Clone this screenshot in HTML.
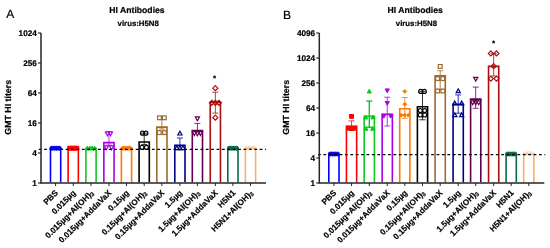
<!DOCTYPE html>
<html><head><meta charset="utf-8"><style>
html,body{margin:0;padding:0;background:#fff;}
svg{display:block;}
text{font-family:"Liberation Sans", Arial, Helvetica, sans-serif;fill:#000;stroke:#000;stroke-width:0.2px;text-rendering:geometricPrecision;}
</style></head><body>
<svg width="550" height="248" viewBox="0 0 550 248">
<path d="M50.50 182.20 V148.20 H60.70 V182.20" fill="none" stroke="#0000ff" stroke-width="1.6" stroke-linejoin="miter"/>
<circle cx="52.00" cy="148.20" r="1.99" fill="#0000ff" stroke="#0000ff" stroke-width="1.0"/>
<circle cx="54.40" cy="148.20" r="1.99" fill="#0000ff" stroke="#0000ff" stroke-width="1.0"/>
<circle cx="56.80" cy="148.20" r="1.99" fill="#0000ff" stroke="#0000ff" stroke-width="1.0"/>
<circle cx="59.20" cy="148.20" r="1.99" fill="#0000ff" stroke="#0000ff" stroke-width="1.0"/>
<path d="M68.15 182.20 V148.20 H78.35 V182.20" fill="none" stroke="#ff0000" stroke-width="1.6" stroke-linejoin="miter"/>
<rect x="67.76" y="146.31" width="3.78" height="3.78" fill="#ff0000" stroke="#ff0000" stroke-width="1.0"/>
<rect x="70.16" y="146.31" width="3.78" height="3.78" fill="#ff0000" stroke="#ff0000" stroke-width="1.0"/>
<rect x="72.56" y="146.31" width="3.78" height="3.78" fill="#ff0000" stroke="#ff0000" stroke-width="1.0"/>
<rect x="74.96" y="146.31" width="3.78" height="3.78" fill="#ff0000" stroke="#ff0000" stroke-width="1.0"/>
<path d="M85.90 182.20 V148.20 H96.10 V182.20" fill="none" stroke="#10c820" stroke-width="1.6" stroke-linejoin="miter"/>
<polygon points="87.40,146.10 89.50,149.88 85.30,149.88" fill="#10c820" stroke="#10c820" stroke-width="1.0" stroke-linejoin="miter"/>
<polygon points="89.80,146.10 91.90,149.88 87.70,149.88" fill="#10c820" stroke="#10c820" stroke-width="1.0" stroke-linejoin="miter"/>
<polygon points="92.20,146.10 94.30,149.88 90.10,149.88" fill="#10c820" stroke="#10c820" stroke-width="1.0" stroke-linejoin="miter"/>
<polygon points="94.60,146.10 96.70,149.88 92.50,149.88" fill="#10c820" stroke="#10c820" stroke-width="1.0" stroke-linejoin="miter"/>
<path d="M103.85 182.20 V142.60 H114.05 V182.20" fill="none" stroke="#a800e6" stroke-width="1.6" stroke-linejoin="miter"/>
<line x1="108.95" y1="131.50" x2="108.95" y2="142.60" stroke="#a800e6" stroke-width="0.8"/>
<line x1="105.95" y1="131.50" x2="111.95" y2="131.50" stroke="#a800e6" stroke-width="0.8"/>
<line x1="108.95" y1="142.60" x2="108.95" y2="145.20" stroke="#a800e6" stroke-width="0.8"/>
<line x1="105.95" y1="145.20" x2="111.95" y2="145.20" stroke="#a800e6" stroke-width="0.8"/>
<polygon points="107.45,135.80 109.55,132.02 105.35,132.02" fill="none" stroke="#a800e6" stroke-width="1.2"/>
<polygon points="110.45,135.80 112.55,132.02 108.35,132.02" fill="none" stroke="#a800e6" stroke-width="1.2"/>
<polygon points="106.35,149.70 108.45,145.92 104.25,145.92" fill="none" stroke="#a800e6" stroke-width="1.2"/>
<polygon points="111.55,149.70 113.65,145.92 109.45,145.92" fill="none" stroke="#a800e6" stroke-width="1.2"/>
<path d="M121.40 182.20 V148.20 H131.60 V182.20" fill="none" stroke="#ff7800" stroke-width="1.6" stroke-linejoin="miter"/>
<polygon points="122.90,145.89 125.21,148.20 122.90,150.51 120.59,148.20" fill="#ff7800" stroke="#ff7800" stroke-width="1.0"/>
<polygon points="125.30,145.89 127.61,148.20 125.30,150.51 122.99,148.20" fill="#ff7800" stroke="#ff7800" stroke-width="1.0"/>
<polygon points="127.70,145.89 130.01,148.20 127.70,150.51 125.39,148.20" fill="#ff7800" stroke="#ff7800" stroke-width="1.0"/>
<polygon points="130.10,145.89 132.41,148.20 130.10,150.51 127.79,148.20" fill="#ff7800" stroke="#ff7800" stroke-width="1.0"/>
<path d="M139.10 182.20 V142.00 H149.30 V182.20" fill="none" stroke="#000000" stroke-width="1.6" stroke-linejoin="miter"/>
<line x1="144.20" y1="133.20" x2="144.20" y2="142.00" stroke="#000000" stroke-width="0.8"/>
<line x1="141.20" y1="133.20" x2="147.20" y2="133.20" stroke="#000000" stroke-width="0.8"/>
<line x1="144.20" y1="142.00" x2="144.20" y2="144.60" stroke="#000000" stroke-width="0.8"/>
<line x1="141.20" y1="144.60" x2="147.20" y2="144.60" stroke="#000000" stroke-width="0.8"/>
<circle cx="142.50" cy="133.20" r="1.99" fill="none" stroke="#000000" stroke-width="1.2"/>
<circle cx="145.90" cy="133.20" r="1.99" fill="none" stroke="#000000" stroke-width="1.2"/>
<circle cx="142.00" cy="147.40" r="1.99" fill="none" stroke="#000000" stroke-width="1.2"/>
<circle cx="146.40" cy="147.40" r="1.99" fill="none" stroke="#000000" stroke-width="1.2"/>
<path d="M156.80 182.20 V127.10 H167.00 V182.20" fill="none" stroke="#9c6a2e" stroke-width="1.6" stroke-linejoin="miter"/>
<line x1="161.90" y1="119.50" x2="161.90" y2="127.10" stroke="#9c6a2e" stroke-width="0.8"/>
<line x1="158.90" y1="119.50" x2="164.90" y2="119.50" stroke="#9c6a2e" stroke-width="0.8"/>
<line x1="161.90" y1="127.10" x2="161.90" y2="129.00" stroke="#9c6a2e" stroke-width="0.8"/>
<line x1="158.90" y1="129.00" x2="164.90" y2="129.00" stroke="#9c6a2e" stroke-width="0.8"/>
<rect x="157.61" y="115.91" width="3.78" height="3.78" fill="none" stroke="#9c6a2e" stroke-width="1.2"/>
<rect x="162.41" y="115.91" width="3.78" height="3.78" fill="none" stroke="#9c6a2e" stroke-width="1.2"/>
<rect x="157.41" y="130.71" width="3.78" height="3.78" fill="none" stroke="#9c6a2e" stroke-width="1.2"/>
<rect x="162.61" y="130.71" width="3.78" height="3.78" fill="none" stroke="#9c6a2e" stroke-width="1.2"/>
<path d="M174.80 182.20 V145.40 H185.00 V182.20" fill="none" stroke="#000088" stroke-width="1.6" stroke-linejoin="miter"/>
<line x1="179.90" y1="138.00" x2="179.90" y2="145.40" stroke="#000088" stroke-width="0.8"/>
<line x1="176.90" y1="138.00" x2="182.90" y2="138.00" stroke="#000088" stroke-width="0.8"/>
<polygon points="179.90,131.20 182.00,134.98 177.80,134.98" fill="none" stroke="#000088" stroke-width="1.2" stroke-linejoin="miter"/>
<polygon points="176.90,145.80 179.00,149.58 174.80,149.58" fill="none" stroke="#000088" stroke-width="1.2" stroke-linejoin="miter"/>
<polygon points="179.90,145.80 182.00,149.58 177.80,149.58" fill="none" stroke="#000088" stroke-width="1.2" stroke-linejoin="miter"/>
<polygon points="182.90,145.80 185.00,149.58 180.80,149.58" fill="none" stroke="#000088" stroke-width="1.2" stroke-linejoin="miter"/>
<path d="M192.30 182.20 V130.60 H202.50 V182.20" fill="none" stroke="#600050" stroke-width="1.6" stroke-linejoin="miter"/>
<line x1="197.40" y1="123.40" x2="197.40" y2="130.60" stroke="#600050" stroke-width="0.8"/>
<line x1="194.40" y1="123.40" x2="200.40" y2="123.40" stroke="#600050" stroke-width="0.8"/>
<polygon points="197.40,120.70 199.50,116.92 195.30,116.92" fill="none" stroke="#600050" stroke-width="1.2"/>
<polygon points="194.40,135.50 196.50,131.72 192.30,131.72" fill="none" stroke="#600050" stroke-width="1.2"/>
<polygon points="197.40,135.70 199.50,131.92 195.30,131.92" fill="none" stroke="#600050" stroke-width="1.2"/>
<polygon points="200.40,135.50 202.50,131.72 198.30,131.72" fill="none" stroke="#600050" stroke-width="1.2"/>
<path d="M210.25 182.20 V102.40 H220.45 V182.20" fill="none" stroke="#a81010" stroke-width="1.6" stroke-linejoin="miter"/>
<line x1="215.35" y1="92.20" x2="215.35" y2="102.40" stroke="#a81010" stroke-width="0.8"/>
<line x1="212.35" y1="92.20" x2="218.35" y2="92.20" stroke="#a81010" stroke-width="0.8"/>
<line x1="215.35" y1="102.40" x2="215.35" y2="113.10" stroke="#a81010" stroke-width="0.8"/>
<line x1="212.35" y1="113.10" x2="218.35" y2="113.10" stroke="#a81010" stroke-width="0.8"/>
<polygon points="215.35,85.68 217.87,88.20 215.35,90.72 212.83,88.20" fill="none" stroke="#a81010" stroke-width="1.2"/>
<polygon points="211.85,100.28 214.37,102.80 211.85,105.32 209.33,102.80" fill="none" stroke="#a81010" stroke-width="1.2"/>
<polygon points="215.35,100.28 217.87,102.80 215.35,105.32 212.83,102.80" fill="none" stroke="#a81010" stroke-width="1.2"/>
<polygon points="218.85,100.28 221.37,102.80 218.85,105.32 216.33,102.80" fill="none" stroke="#a81010" stroke-width="1.2"/>
<polygon points="215.35,115.18 217.87,117.70 215.35,120.22 212.83,117.70" fill="none" stroke="#a81010" stroke-width="1.2"/>
<path d="M227.80 182.20 V148.20 H238.00 V182.20" fill="none" stroke="#0a6a48" stroke-width="1.6" stroke-linejoin="miter"/>
<circle cx="229.30" cy="148.20" r="1.99" fill="#0a6a48" stroke="#0a6a48" stroke-width="1.0"/>
<circle cx="231.70" cy="148.20" r="1.99" fill="#0a6a48" stroke="#0a6a48" stroke-width="1.0"/>
<circle cx="234.10" cy="148.20" r="1.99" fill="#0a6a48" stroke="#0a6a48" stroke-width="1.0"/>
<circle cx="236.50" cy="148.20" r="1.99" fill="#0a6a48" stroke="#0a6a48" stroke-width="1.0"/>
<path d="M245.40 182.20 V148.20 H255.60 V182.20" fill="none" stroke="#f5b070" stroke-width="1.6" stroke-linejoin="miter"/>
<circle cx="247.10" cy="147.60" r="1.71" fill="none" stroke="#f8cc9c" stroke-width="0.8"/>
<circle cx="250.50" cy="147.60" r="1.71" fill="none" stroke="#f8cc9c" stroke-width="0.8"/>
<circle cx="253.90" cy="147.60" r="1.71" fill="none" stroke="#f8cc9c" stroke-width="0.8"/>
<line x1="38.70" y1="149.3" x2="266.10" y2="149.3" stroke="#000" stroke-width="1.35" stroke-dasharray="2.8,2.59"/>
<path d="M41 33 V183 H266" fill="none" stroke="#262626" stroke-width="1.5"/>
<line x1="38" y1="33" x2="41" y2="33" stroke="#262626" stroke-width="1.2"/>
<text x="36.8" y="35.7" text-anchor="end" font-size="8.2" font-weight="bold">1024</text>
<line x1="38" y1="63" x2="41" y2="63" stroke="#262626" stroke-width="1.2"/>
<text x="36.8" y="65.7" text-anchor="end" font-size="8.2" font-weight="bold">256</text>
<line x1="38" y1="93" x2="41" y2="93" stroke="#262626" stroke-width="1.2"/>
<text x="36.8" y="95.7" text-anchor="end" font-size="8.2" font-weight="bold">64</text>
<line x1="38" y1="123" x2="41" y2="123" stroke="#262626" stroke-width="1.2"/>
<text x="36.8" y="125.7" text-anchor="end" font-size="8.2" font-weight="bold">16</text>
<line x1="38" y1="153" x2="41" y2="153" stroke="#262626" stroke-width="1.2"/>
<text x="36.8" y="155.7" text-anchor="end" font-size="8.2" font-weight="bold">4</text>
<line x1="38" y1="183" x2="41" y2="183" stroke="#262626" stroke-width="1.2"/>
<text x="36.8" y="185.7" text-anchor="end" font-size="8.2" font-weight="bold">1</text>
<line x1="55.60" y1="183" x2="55.60" y2="186" stroke="#262626" stroke-width="1"/>
<text transform="translate(58.60,193.4) rotate(-45)" text-anchor="end" font-size="8.2" font-weight="bold">PBS</text>
<line x1="73.25" y1="183" x2="73.25" y2="186" stroke="#262626" stroke-width="1"/>
<text transform="translate(76.25,193.4) rotate(-45)" text-anchor="end" font-size="8.2" font-weight="bold">0.015µg</text>
<line x1="91.00" y1="183" x2="91.00" y2="186" stroke="#262626" stroke-width="1"/>
<text transform="translate(94.00,193.4) rotate(-45)" text-anchor="end" font-size="8.2" font-weight="bold">0.015µg+Al(OH)<tspan font-size="6" dy="1.3">3</tspan></text>
<line x1="108.95" y1="183" x2="108.95" y2="186" stroke="#262626" stroke-width="1"/>
<text transform="translate(111.95,193.4) rotate(-45)" text-anchor="end" font-size="8.2" font-weight="bold">0.015µg+AddaVaX</text>
<line x1="126.50" y1="183" x2="126.50" y2="186" stroke="#262626" stroke-width="1"/>
<text transform="translate(129.50,193.4) rotate(-45)" text-anchor="end" font-size="8.2" font-weight="bold">0.15µg</text>
<line x1="144.20" y1="183" x2="144.20" y2="186" stroke="#262626" stroke-width="1"/>
<text transform="translate(147.20,193.4) rotate(-45)" text-anchor="end" font-size="8.2" font-weight="bold">0.15µg+Al(OH)<tspan font-size="6" dy="1.3">3</tspan></text>
<line x1="161.90" y1="183" x2="161.90" y2="186" stroke="#262626" stroke-width="1"/>
<text transform="translate(164.90,193.4) rotate(-45)" text-anchor="end" font-size="8.2" font-weight="bold">0.15µg+AddaVaX</text>
<line x1="179.90" y1="183" x2="179.90" y2="186" stroke="#262626" stroke-width="1"/>
<text transform="translate(182.90,193.4) rotate(-45)" text-anchor="end" font-size="8.2" font-weight="bold">1.5µg</text>
<line x1="197.40" y1="183" x2="197.40" y2="186" stroke="#262626" stroke-width="1"/>
<text transform="translate(200.40,193.4) rotate(-45)" text-anchor="end" font-size="8.2" font-weight="bold">1.5µg+Al(OH)<tspan font-size="6" dy="1.3">3</tspan></text>
<line x1="215.35" y1="183" x2="215.35" y2="186" stroke="#262626" stroke-width="1"/>
<text transform="translate(218.35,193.4) rotate(-45)" text-anchor="end" font-size="8.2" font-weight="bold">1.5µg+AddaVaX</text>
<line x1="232.90" y1="183" x2="232.90" y2="186" stroke="#262626" stroke-width="1"/>
<text transform="translate(235.90,193.4) rotate(-45)" text-anchor="end" font-size="8.2" font-weight="bold">H5N1</text>
<line x1="250.50" y1="183" x2="250.50" y2="186" stroke="#262626" stroke-width="1"/>
<text transform="translate(253.50,193.4) rotate(-45)" text-anchor="end" font-size="8.2" font-weight="bold">H5N1+Al(OH)<tspan font-size="6" dy="1.3">3</tspan></text>
<text x="214.5" y="80.8" text-anchor="middle" font-size="8" font-weight="bold">*</text>
<text transform="translate(10.9,107.3) rotate(-90)" text-anchor="middle" font-size="8.8" font-weight="bold">GMT HI titers</text>
<text x="137.0" y="12.7" text-anchor="middle" font-size="8.65" font-weight="bold">HI Antibodies</text>
<text x="138.2" y="26.1" text-anchor="middle" font-size="7.8" font-weight="bold">virus:H5N8</text>
<text x="6.2" y="18.4" font-size="12">A</text>
<path d="M328.80 182.20 V154.00 H339.00 V182.20" fill="none" stroke="#0000ff" stroke-width="1.6" stroke-linejoin="miter"/>
<circle cx="330.30" cy="154.00" r="1.99" fill="#0000ff" stroke="#0000ff" stroke-width="1.0"/>
<circle cx="332.70" cy="154.00" r="1.99" fill="#0000ff" stroke="#0000ff" stroke-width="1.0"/>
<circle cx="335.10" cy="154.00" r="1.99" fill="#0000ff" stroke="#0000ff" stroke-width="1.0"/>
<circle cx="337.50" cy="154.00" r="1.99" fill="#0000ff" stroke="#0000ff" stroke-width="1.0"/>
<path d="M346.45 182.20 V126.20 H356.65 V182.20" fill="none" stroke="#ff0000" stroke-width="1.6" stroke-linejoin="miter"/>
<line x1="351.55" y1="120.90" x2="351.55" y2="126.20" stroke="#ff0000" stroke-width="0.8"/>
<line x1="348.55" y1="120.90" x2="354.55" y2="120.90" stroke="#ff0000" stroke-width="0.8"/>
<line x1="351.55" y1="126.20" x2="351.55" y2="130.60" stroke="#ff0000" stroke-width="0.8"/>
<line x1="348.55" y1="130.60" x2="354.55" y2="130.60" stroke="#ff0000" stroke-width="0.8"/>
<rect x="349.66" y="114.51" width="3.78" height="3.78" fill="#ff0000" stroke="#ff0000" stroke-width="1.0"/>
<rect x="346.46" y="126.31" width="3.78" height="3.78" fill="#ff0000" stroke="#ff0000" stroke-width="1.0"/>
<rect x="349.66" y="126.51" width="3.78" height="3.78" fill="#ff0000" stroke="#ff0000" stroke-width="1.0"/>
<rect x="352.86" y="126.31" width="3.78" height="3.78" fill="#ff0000" stroke="#ff0000" stroke-width="1.0"/>
<path d="M364.20 182.20 V116.20 H374.40 V182.20" fill="none" stroke="#10c820" stroke-width="1.6" stroke-linejoin="miter"/>
<line x1="369.30" y1="101.10" x2="369.30" y2="116.20" stroke="#10c820" stroke-width="1.4"/>
<line x1="366.30" y1="101.10" x2="372.30" y2="101.10" stroke="#10c820" stroke-width="1.4"/>
<line x1="369.30" y1="116.20" x2="369.30" y2="127.30" stroke="#10c820" stroke-width="1.4"/>
<line x1="366.30" y1="127.30" x2="372.30" y2="127.30" stroke="#10c820" stroke-width="1.4"/>
<polygon points="369.30,89.20 371.40,92.98 367.20,92.98" fill="#10c820" stroke="#10c820" stroke-width="1.0" stroke-linejoin="miter"/>
<polygon points="365.70,115.10 367.80,118.88 363.60,118.88" fill="#10c820" stroke="#10c820" stroke-width="1.0" stroke-linejoin="miter"/>
<polygon points="372.90,115.10 375.00,118.88 370.80,118.88" fill="#10c820" stroke="#10c820" stroke-width="1.0" stroke-linejoin="miter"/>
<polygon points="365.90,126.50 368.00,130.28 363.80,130.28" fill="#10c820" stroke="#10c820" stroke-width="1.0" stroke-linejoin="miter"/>
<polygon points="372.70,126.50 374.80,130.28 370.60,130.28" fill="#10c820" stroke="#10c820" stroke-width="1.0" stroke-linejoin="miter"/>
<path d="M382.15 182.20 V114.20 H392.35 V182.20" fill="none" stroke="#a800e6" stroke-width="1.6" stroke-linejoin="miter"/>
<line x1="387.25" y1="97.20" x2="387.25" y2="114.20" stroke="#a800e6" stroke-width="0.8"/>
<line x1="384.25" y1="97.20" x2="390.25" y2="97.20" stroke="#a800e6" stroke-width="0.8"/>
<line x1="387.25" y1="114.20" x2="387.25" y2="126.00" stroke="#a800e6" stroke-width="0.8"/>
<line x1="384.25" y1="126.00" x2="390.25" y2="126.00" stroke="#a800e6" stroke-width="0.8"/>
<polygon points="387.25,92.70 389.35,88.92 385.15,88.92" fill="#a800e6" stroke="#a800e6" stroke-width="1.0"/>
<polygon points="387.25,105.30 389.35,101.52 385.15,101.52" fill="#a800e6" stroke="#a800e6" stroke-width="1.0"/>
<polygon points="383.85,118.10 385.95,114.32 381.75,114.32" fill="#a800e6" stroke="#a800e6" stroke-width="1.0"/>
<polygon points="390.65,118.10 392.75,114.32 388.55,114.32" fill="#a800e6" stroke="#a800e6" stroke-width="1.0"/>
<path d="M399.70 182.20 V108.80 H409.90 V182.20" fill="none" stroke="#ff7800" stroke-width="1.6" stroke-linejoin="miter"/>
<line x1="404.80" y1="97.50" x2="404.80" y2="108.80" stroke="#ff7800" stroke-width="0.8"/>
<line x1="401.80" y1="97.50" x2="407.80" y2="97.50" stroke="#ff7800" stroke-width="0.8"/>
<line x1="404.80" y1="108.80" x2="404.80" y2="118.30" stroke="#ff7800" stroke-width="0.8"/>
<line x1="401.80" y1="118.30" x2="407.80" y2="118.30" stroke="#ff7800" stroke-width="0.8"/>
<polygon points="404.80,89.51 406.69,91.40 404.80,93.29 402.91,91.40" fill="#ff7800" stroke="#ff7800" stroke-width="1.0"/>
<polygon points="404.80,102.31 406.69,104.20 404.80,106.09 402.91,104.20" fill="#ff7800" stroke="#ff7800" stroke-width="1.0"/>
<polygon points="401.20,113.31 403.09,115.20 401.20,117.09 399.31,115.20" fill="#ff7800" stroke="#ff7800" stroke-width="1.0"/>
<polygon points="404.80,113.31 406.69,115.20 404.80,117.09 402.91,115.20" fill="#ff7800" stroke="#ff7800" stroke-width="1.0"/>
<polygon points="408.40,113.31 410.29,115.20 408.40,117.09 406.51,115.20" fill="#ff7800" stroke="#ff7800" stroke-width="1.0"/>
<path d="M417.40 182.20 V106.70 H427.60 V182.20" fill="none" stroke="#000000" stroke-width="1.6" stroke-linejoin="miter"/>
<line x1="422.50" y1="91.40" x2="422.50" y2="106.70" stroke="#000000" stroke-width="0.8"/>
<line x1="419.50" y1="91.40" x2="425.50" y2="91.40" stroke="#000000" stroke-width="0.8"/>
<line x1="422.50" y1="106.70" x2="422.50" y2="119.80" stroke="#000000" stroke-width="0.8"/>
<line x1="419.50" y1="119.80" x2="425.50" y2="119.80" stroke="#000000" stroke-width="0.8"/>
<circle cx="420.70" cy="91.40" r="1.99" fill="none" stroke="#000000" stroke-width="1.2"/>
<circle cx="424.30" cy="91.40" r="1.99" fill="none" stroke="#000000" stroke-width="1.2"/>
<circle cx="420.30" cy="110.60" r="1.99" fill="none" stroke="#000000" stroke-width="1.2"/>
<circle cx="424.70" cy="110.60" r="1.99" fill="none" stroke="#000000" stroke-width="1.2"/>
<circle cx="420.30" cy="115.00" r="1.99" fill="none" stroke="#000000" stroke-width="1.2"/>
<circle cx="424.70" cy="115.00" r="1.99" fill="none" stroke="#000000" stroke-width="1.2"/>
<path d="M435.10 182.20 V75.90 H445.30 V182.20" fill="none" stroke="#9c6a2e" stroke-width="1.6" stroke-linejoin="miter"/>
<line x1="440.20" y1="70.70" x2="440.20" y2="75.90" stroke="#9c6a2e" stroke-width="0.8"/>
<line x1="437.20" y1="70.70" x2="443.20" y2="70.70" stroke="#9c6a2e" stroke-width="0.8"/>
<line x1="440.20" y1="75.90" x2="440.20" y2="89.50" stroke="#9c6a2e" stroke-width="0.8"/>
<line x1="437.20" y1="89.50" x2="443.20" y2="89.50" stroke="#9c6a2e" stroke-width="0.8"/>
<rect x="438.31" y="64.61" width="3.78" height="3.78" fill="none" stroke="#9c6a2e" stroke-width="1.2"/>
<rect x="435.71" y="76.71" width="3.78" height="3.78" fill="none" stroke="#9c6a2e" stroke-width="1.2"/>
<rect x="440.91" y="76.71" width="3.78" height="3.78" fill="none" stroke="#9c6a2e" stroke-width="1.2"/>
<rect x="435.71" y="89.11" width="3.78" height="3.78" fill="none" stroke="#9c6a2e" stroke-width="1.2"/>
<rect x="440.91" y="89.11" width="3.78" height="3.78" fill="none" stroke="#9c6a2e" stroke-width="1.2"/>
<path d="M453.10 182.20 V104.40 H463.30 V182.20" fill="none" stroke="#000088" stroke-width="1.6" stroke-linejoin="miter"/>
<line x1="458.20" y1="94.90" x2="458.20" y2="104.40" stroke="#000088" stroke-width="0.8"/>
<line x1="455.20" y1="94.90" x2="461.20" y2="94.90" stroke="#000088" stroke-width="0.8"/>
<line x1="458.20" y1="104.40" x2="458.20" y2="113.20" stroke="#000088" stroke-width="0.8"/>
<line x1="455.20" y1="113.20" x2="461.20" y2="113.20" stroke="#000088" stroke-width="0.8"/>
<polygon points="458.20,88.90 460.30,92.68 456.10,92.68" fill="none" stroke="#000088" stroke-width="1.2" stroke-linejoin="miter"/>
<polygon points="454.70,101.10 456.80,104.88 452.60,104.88" fill="none" stroke="#000088" stroke-width="1.2" stroke-linejoin="miter"/>
<polygon points="461.70,101.10 463.80,104.88 459.60,104.88" fill="none" stroke="#000088" stroke-width="1.2" stroke-linejoin="miter"/>
<polygon points="454.80,112.90 456.90,116.68 452.70,116.68" fill="none" stroke="#000088" stroke-width="1.2" stroke-linejoin="miter"/>
<polygon points="461.60,112.90 463.70,116.68 459.50,116.68" fill="none" stroke="#000088" stroke-width="1.2" stroke-linejoin="miter"/>
<path d="M470.60 182.20 V99.10 H480.80 V182.20" fill="none" stroke="#600050" stroke-width="1.6" stroke-linejoin="miter"/>
<line x1="475.70" y1="87.10" x2="475.70" y2="99.10" stroke="#600050" stroke-width="0.8"/>
<line x1="472.70" y1="87.10" x2="478.70" y2="87.10" stroke="#600050" stroke-width="0.8"/>
<line x1="475.70" y1="99.10" x2="475.70" y2="108.30" stroke="#600050" stroke-width="0.8"/>
<line x1="472.70" y1="108.30" x2="478.70" y2="108.30" stroke="#600050" stroke-width="0.8"/>
<polygon points="475.70,81.10 477.80,77.32 473.60,77.32" fill="none" stroke="#600050" stroke-width="1.2"/>
<polygon points="472.70,104.70 474.80,100.92 470.60,100.92" fill="none" stroke="#600050" stroke-width="1.2"/>
<polygon points="475.70,104.70 477.80,100.92 473.60,100.92" fill="none" stroke="#600050" stroke-width="1.2"/>
<polygon points="478.70,104.70 480.80,100.92 476.60,100.92" fill="none" stroke="#600050" stroke-width="1.2"/>
<path d="M488.55 182.20 V66.40 H498.75 V182.20" fill="none" stroke="#a81010" stroke-width="1.6" stroke-linejoin="miter"/>
<line x1="493.65" y1="53.40" x2="493.65" y2="66.40" stroke="#a81010" stroke-width="0.8"/>
<line x1="490.65" y1="53.40" x2="496.65" y2="53.40" stroke="#a81010" stroke-width="0.8"/>
<line x1="493.65" y1="66.40" x2="493.65" y2="76.00" stroke="#a81010" stroke-width="0.8"/>
<line x1="490.65" y1="76.00" x2="496.65" y2="76.00" stroke="#a81010" stroke-width="0.8"/>
<polygon points="490.85,50.88 493.37,53.40 490.85,55.92 488.33,53.40" fill="none" stroke="#a81010" stroke-width="1.2"/>
<polygon points="496.45,50.88 498.97,53.40 496.45,55.92 493.93,53.40" fill="none" stroke="#a81010" stroke-width="1.2"/>
<polygon points="493.65,63.68 496.17,66.20 493.65,68.72 491.13,66.20" fill="none" stroke="#a81010" stroke-width="1.2"/>
<polygon points="490.85,76.08 493.37,78.60 490.85,81.12 488.33,78.60" fill="none" stroke="#a81010" stroke-width="1.2"/>
<polygon points="496.45,76.08 498.97,78.60 496.45,81.12 493.93,78.60" fill="none" stroke="#a81010" stroke-width="1.2"/>
<path d="M506.10 182.20 V154.00 H516.30 V182.20" fill="none" stroke="#0a6a48" stroke-width="1.6" stroke-linejoin="miter"/>
<circle cx="507.60" cy="154.00" r="1.99" fill="#0a6a48" stroke="#0a6a48" stroke-width="1.0"/>
<circle cx="510.00" cy="154.00" r="1.99" fill="#0a6a48" stroke="#0a6a48" stroke-width="1.0"/>
<circle cx="512.40" cy="154.00" r="1.99" fill="#0a6a48" stroke="#0a6a48" stroke-width="1.0"/>
<circle cx="514.80" cy="154.00" r="1.99" fill="#0a6a48" stroke="#0a6a48" stroke-width="1.0"/>
<path d="M523.70 182.20 V154.00 H533.90 V182.20" fill="none" stroke="#f5b070" stroke-width="1.6" stroke-linejoin="miter"/>
<circle cx="525.40" cy="153.40" r="1.71" fill="none" stroke="#f8cc9c" stroke-width="0.8"/>
<circle cx="528.80" cy="153.40" r="1.71" fill="none" stroke="#f8cc9c" stroke-width="0.8"/>
<circle cx="532.20" cy="153.40" r="1.71" fill="none" stroke="#f8cc9c" stroke-width="0.8"/>
<line x1="318.00" y1="154.6" x2="545.20" y2="154.6" stroke="#000" stroke-width="1.35" stroke-dasharray="2.8,2.59"/>
<path d="M319.3 33 V183 H544.3" fill="none" stroke="#262626" stroke-width="1.5"/>
<line x1="316.3" y1="33" x2="319.3" y2="33" stroke="#262626" stroke-width="1.2"/>
<text x="315.1" y="35.7" text-anchor="end" font-size="8.2" font-weight="bold">4096</text>
<line x1="316.3" y1="58" x2="319.3" y2="58" stroke="#262626" stroke-width="1.2"/>
<text x="315.1" y="60.7" text-anchor="end" font-size="8.2" font-weight="bold">1024</text>
<line x1="316.3" y1="83" x2="319.3" y2="83" stroke="#262626" stroke-width="1.2"/>
<text x="315.1" y="85.7" text-anchor="end" font-size="8.2" font-weight="bold">256</text>
<line x1="316.3" y1="108" x2="319.3" y2="108" stroke="#262626" stroke-width="1.2"/>
<text x="315.1" y="110.7" text-anchor="end" font-size="8.2" font-weight="bold">64</text>
<line x1="316.3" y1="133" x2="319.3" y2="133" stroke="#262626" stroke-width="1.2"/>
<text x="315.1" y="135.7" text-anchor="end" font-size="8.2" font-weight="bold">16</text>
<line x1="316.3" y1="158" x2="319.3" y2="158" stroke="#262626" stroke-width="1.2"/>
<text x="315.1" y="160.7" text-anchor="end" font-size="8.2" font-weight="bold">4</text>
<line x1="316.3" y1="183" x2="319.3" y2="183" stroke="#262626" stroke-width="1.2"/>
<text x="315.1" y="185.7" text-anchor="end" font-size="8.2" font-weight="bold">1</text>
<line x1="333.90" y1="183" x2="333.90" y2="186" stroke="#262626" stroke-width="1"/>
<text transform="translate(336.90,193.4) rotate(-45)" text-anchor="end" font-size="8.2" font-weight="bold">PBS</text>
<line x1="351.55" y1="183" x2="351.55" y2="186" stroke="#262626" stroke-width="1"/>
<text transform="translate(354.55,193.4) rotate(-45)" text-anchor="end" font-size="8.2" font-weight="bold">0.015µg</text>
<line x1="369.30" y1="183" x2="369.30" y2="186" stroke="#262626" stroke-width="1"/>
<text transform="translate(372.30,193.4) rotate(-45)" text-anchor="end" font-size="8.2" font-weight="bold">0.015µg+Al(OH)<tspan font-size="6" dy="1.3">3</tspan></text>
<line x1="387.25" y1="183" x2="387.25" y2="186" stroke="#262626" stroke-width="1"/>
<text transform="translate(390.25,193.4) rotate(-45)" text-anchor="end" font-size="8.2" font-weight="bold">0.015µg+AddaVaX</text>
<line x1="404.80" y1="183" x2="404.80" y2="186" stroke="#262626" stroke-width="1"/>
<text transform="translate(407.80,193.4) rotate(-45)" text-anchor="end" font-size="8.2" font-weight="bold">0.15µg</text>
<line x1="422.50" y1="183" x2="422.50" y2="186" stroke="#262626" stroke-width="1"/>
<text transform="translate(425.50,193.4) rotate(-45)" text-anchor="end" font-size="8.2" font-weight="bold">0.15µg+Al(OH)<tspan font-size="6" dy="1.3">3</tspan></text>
<line x1="440.20" y1="183" x2="440.20" y2="186" stroke="#262626" stroke-width="1"/>
<text transform="translate(443.20,193.4) rotate(-45)" text-anchor="end" font-size="8.2" font-weight="bold">0.15µg+AddaVaX</text>
<line x1="458.20" y1="183" x2="458.20" y2="186" stroke="#262626" stroke-width="1"/>
<text transform="translate(461.20,193.4) rotate(-45)" text-anchor="end" font-size="8.2" font-weight="bold">1.5µg</text>
<line x1="475.70" y1="183" x2="475.70" y2="186" stroke="#262626" stroke-width="1"/>
<text transform="translate(478.70,193.4) rotate(-45)" text-anchor="end" font-size="8.2" font-weight="bold">1.5µg+Al(OH)<tspan font-size="6" dy="1.3">3</tspan></text>
<line x1="493.65" y1="183" x2="493.65" y2="186" stroke="#262626" stroke-width="1"/>
<text transform="translate(496.65,193.4) rotate(-45)" text-anchor="end" font-size="8.2" font-weight="bold">1.5µg+AddaVaX</text>
<line x1="511.20" y1="183" x2="511.20" y2="186" stroke="#262626" stroke-width="1"/>
<text transform="translate(514.20,193.4) rotate(-45)" text-anchor="end" font-size="8.2" font-weight="bold">H5N1</text>
<line x1="528.80" y1="183" x2="528.80" y2="186" stroke="#262626" stroke-width="1"/>
<text transform="translate(531.80,193.4) rotate(-45)" text-anchor="end" font-size="8.2" font-weight="bold">H5N1+Al(OH)<tspan font-size="6" dy="1.3">3</tspan></text>
<text x="493.5" y="46.2" text-anchor="middle" font-size="8" font-weight="bold">*</text>
<text transform="translate(289.2,107.3) rotate(-90)" text-anchor="middle" font-size="8.8" font-weight="bold">GMT HI titers</text>
<text x="415.2" y="12.7" text-anchor="middle" font-size="8.65" font-weight="bold">HI Antibodies</text>
<text x="416.4" y="26.1" text-anchor="middle" font-size="7.8" font-weight="bold">virus:H5N8</text>
<text x="283.0" y="18.9" font-size="12">B</text>
</svg>
</body></html>
